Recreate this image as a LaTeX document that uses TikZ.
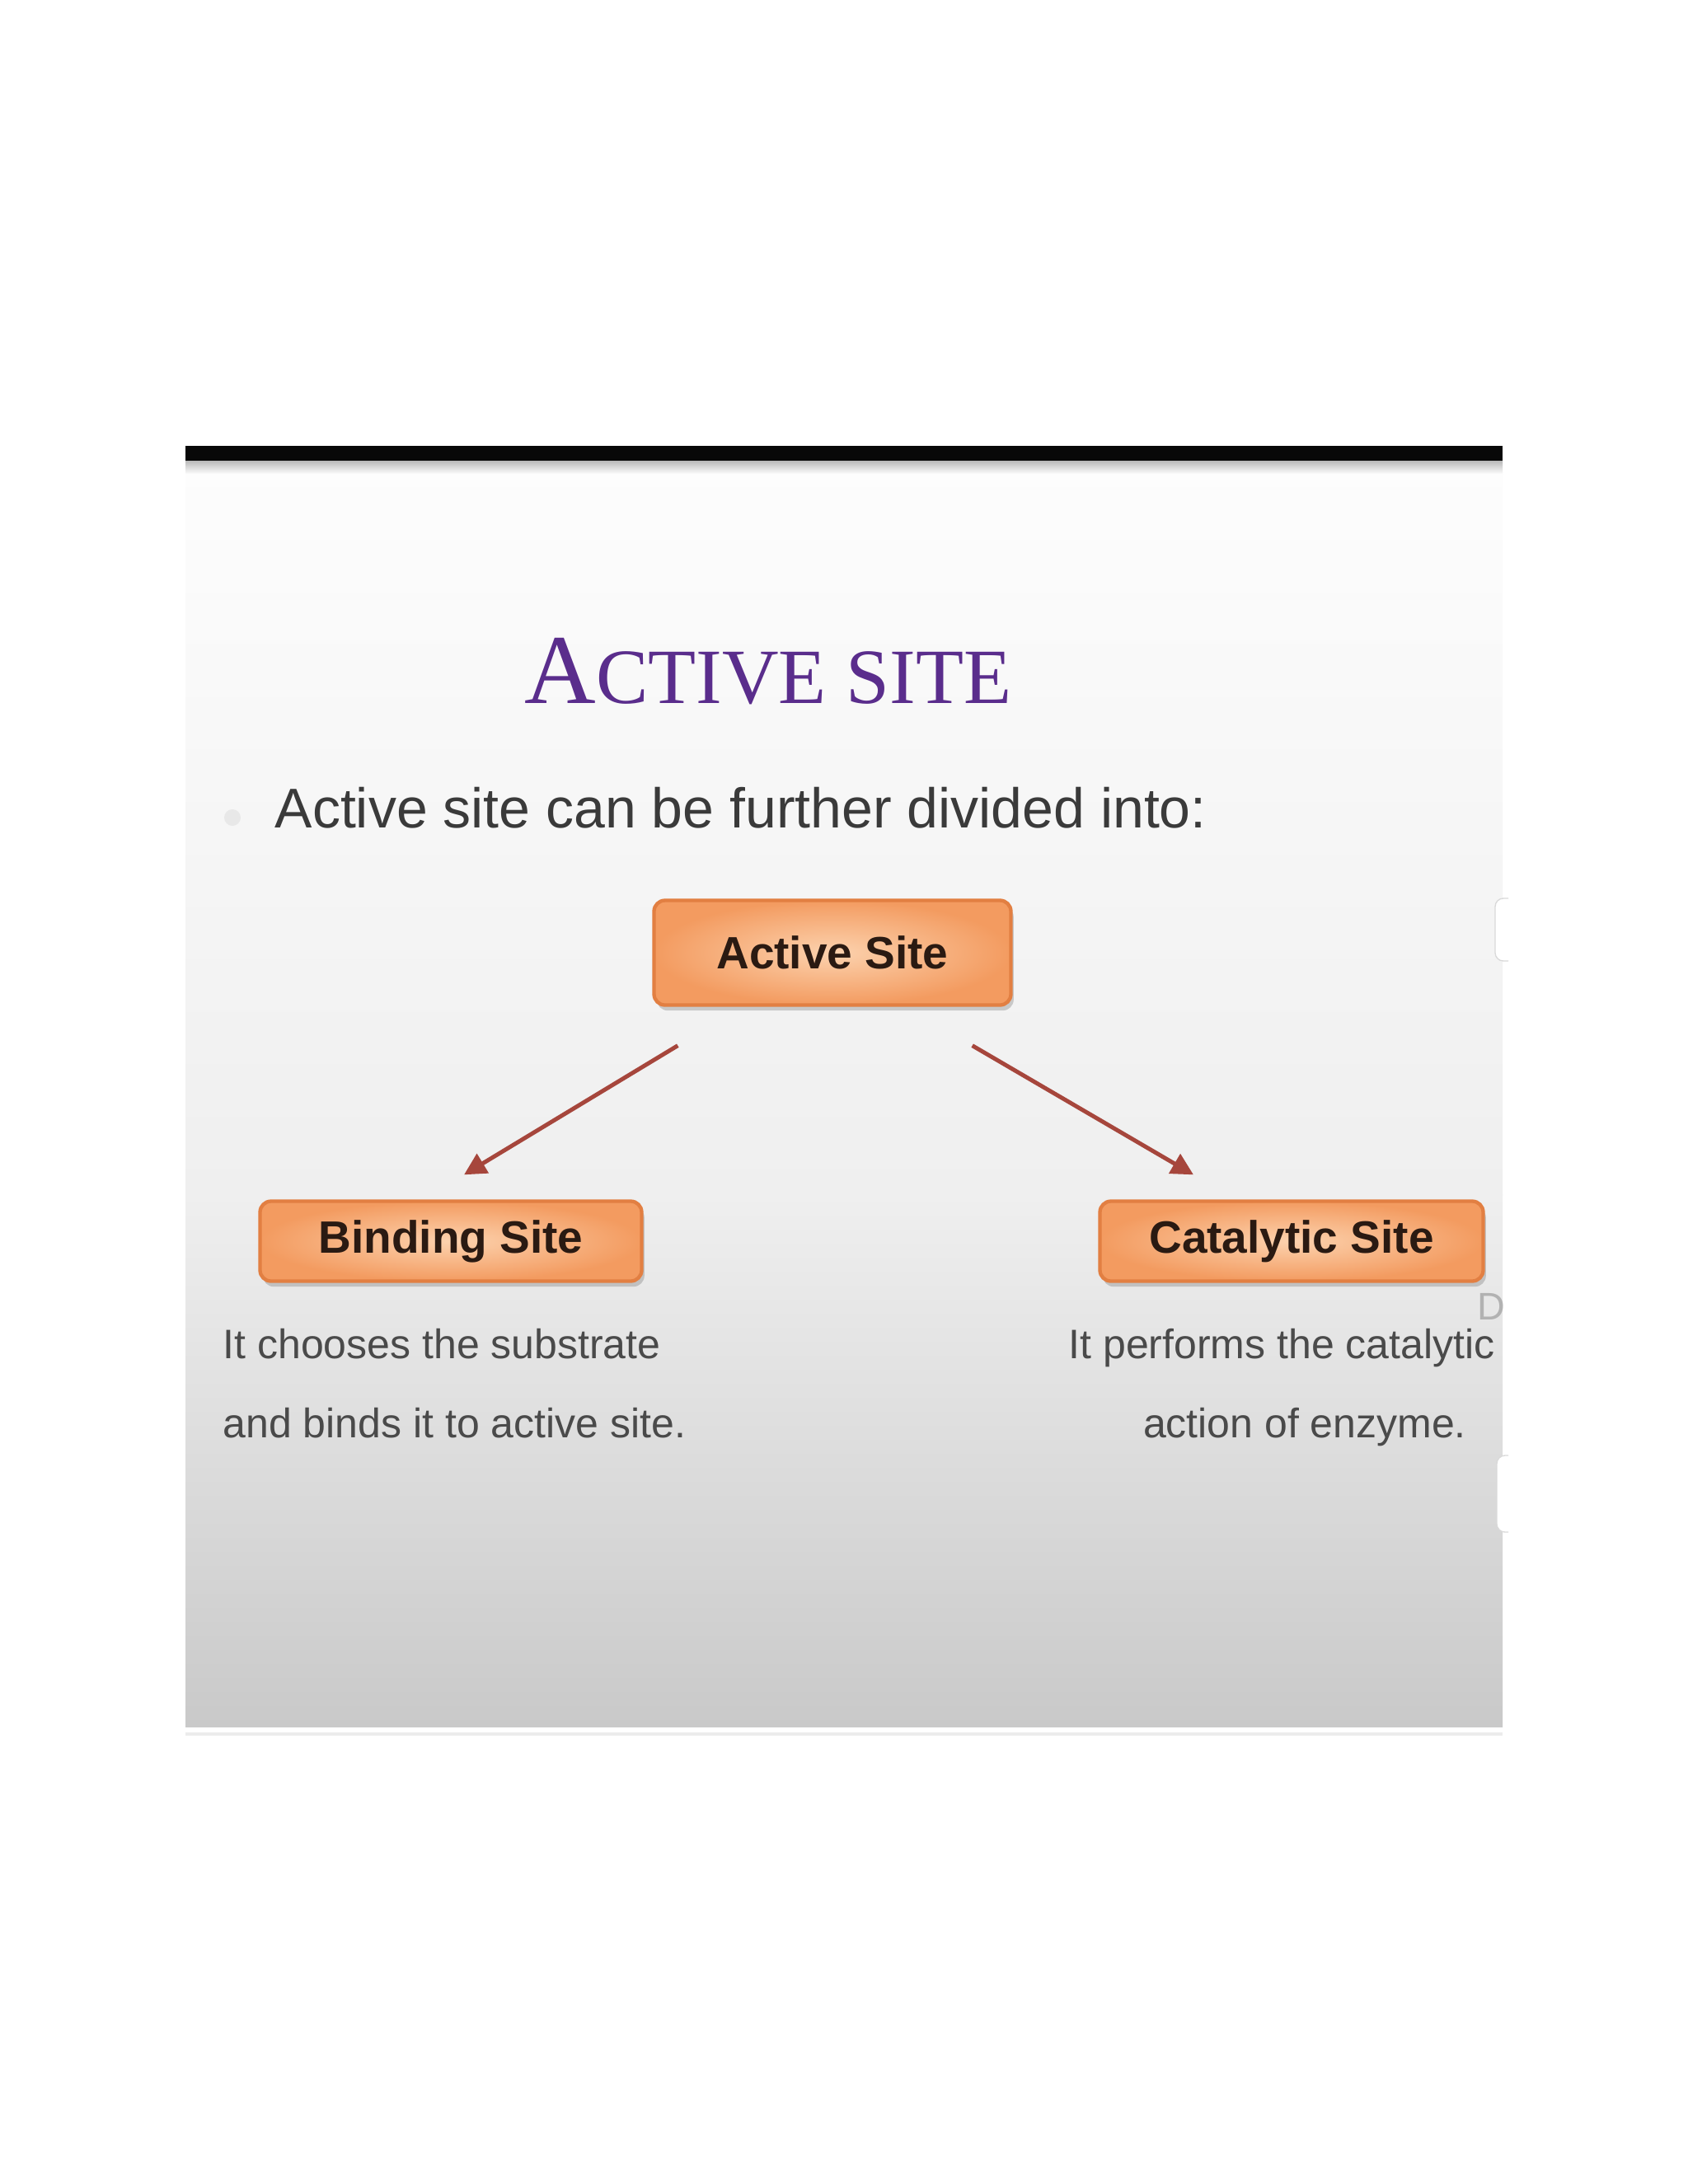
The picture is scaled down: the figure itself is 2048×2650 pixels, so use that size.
\documentclass[tikz,border=0pt]{standalone}
\usepackage{fontspec}
\setmainfont{Liberation Sans}
\newfontfamily\titlefont{Liberation Serif}
\usetikzlibrary{arrows.meta,calc,shadows}
\definecolor{titlepurple}{HTML}{5A2D8C}
\definecolor{boxedge}{HTML}{E27F42}
\definecolor{boxin}{HTML}{FCD2AE}
\definecolor{boxout}{HTML}{F39B60}
\definecolor{boxtext}{HTML}{2A1A12}
\definecolor{arrowred}{HTML}{A6463C}
\definecolor{desctext}{HTML}{4A4A4A}
\definecolor{bodytext}{HTML}{3A3A3A}
\definecolor{bgtop}{HTML}{FDFDFD}
\definecolor{bgmid}{HTML}{EFEFEF}
\definecolor{bgbot}{HTML}{C9C9C9}
\begin{document}
\begin{tikzpicture}[x=0.3pt,y=-0.3pt,
  sitebox/.style={draw=boxedge, line width=1.3pt, rounded corners=4pt,
    inner color=boxin, outer color=boxout, text=boxtext,
    font=\fontsize{16.5}{16.5}\selectfont\bfseries,
    drop shadow={shadow xshift=1pt, shadow yshift=-2pt, opacity=0.3, fill=black!60}},
  arr/.style={draw=arrowred, line width=1.5pt, -{Triangle[length=8pt,width=8pt]}},
  desc/.style={text=desctext, inner sep=0pt, font=\fontsize{15}{15}\selectfont},
]
\useasboundingbox (0,0) rectangle (2048,2650);
\fill[white] (0,0) rectangle (2048,2650);
% slide background
\shade[top color=bgtop, bottom color=bgmid] (225,559) rectangle (1823,1450);
\shade[top color=bgmid, bottom color=bgbot] (225,1449) rectangle (1823,2095);
\fill[black!97] (225,541) rectangle (1823,559);
\shade[top color=gray!55, bottom color=bgtop] (225,559) rectangle (1823,575);
\draw[gray!15, line width=1pt] (225,2104) -- (1823,2104);
% right-edge fragments
\draw[gray!30, fill=white, rounded corners=3pt] (1830,1090) -- (1814,1090) -- (1814,1166) -- (1830,1166);
\draw[gray!30, fill=white, rounded corners=3pt] (1830,1766) -- (1816,1766) -- (1816,1859) -- (1830,1859);
% title
\node[anchor=base, text=titlepurple, inner sep=0pt] (title) at (932,853)
  {\titlefont\fontsize{36}{36}\selectfont A\fontsize{28.5}{28.5}\selectfont CTIVE SITE};
% bullet
\fill[gray!18] (282,992) circle (10);
\node[anchor=base west, inner sep=0pt, text=bodytext, font=\fontsize{20.4}{20.4}\selectfont] (lead) at (333,1004)
  {Active site can be further divided into:};
% boxes
\node[sitebox, minimum width=129.9pt, minimum height=38.1pt] (act) at (1010,1156) {Active Site};
\node[sitebox, minimum width=138.9pt, minimum height=29.1pt] (bind) at (547,1506) {Binding Site};
\node[sitebox, minimum width=139.5pt, minimum height=29.1pt] (cat) at (1567,1506) {Catalytic Site};
% arrows
\draw[arr] ($(act.south west)+(31,47)$) -- ($(bind.north)+(16,-30)$);
\draw[arr] ($(act.south east)+(-49,47)$) -- ($(cat.north)+(-119,-30)$);
% descriptions
\node[desc, anchor=base west] (b1) at (270,1648) {It chooses the substrate};
\node[desc, anchor=base west] (b2) at (270,1744) {and binds it to active site.};
\node[desc, anchor=base] (c1) at (1555,1648) {It performs the catalytic};
\node[desc, anchor=base] (c2) at (1583,1744) {action of enzyme.};
\node[inner sep=0pt, text=gray!60, font=\fontsize{14}{14}\selectfont] (dmark) at (1809,1585) {D};
\end{tikzpicture}
\end{document}
